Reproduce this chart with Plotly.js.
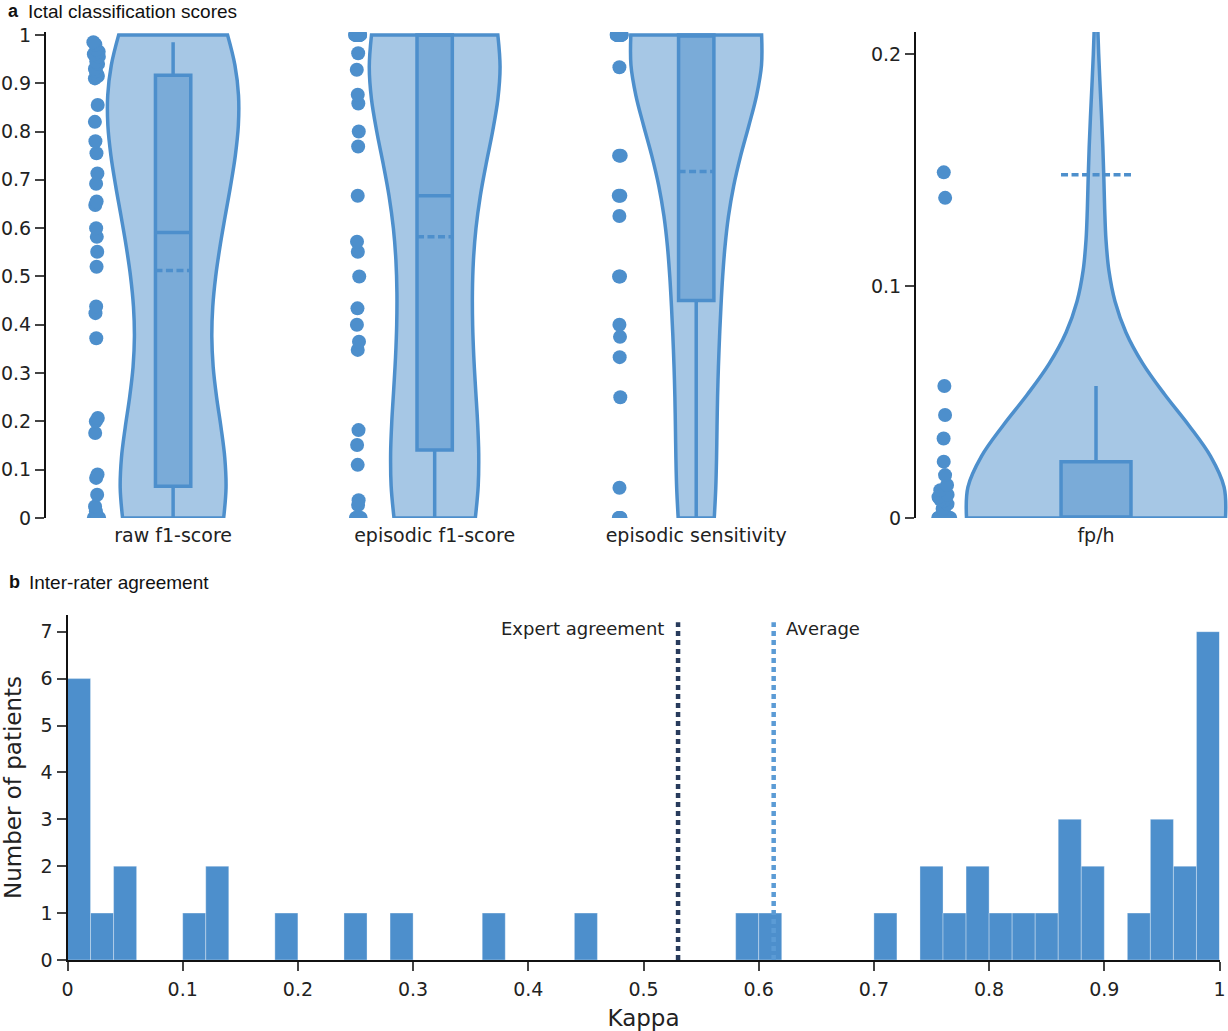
<!DOCTYPE html>
<html>
<head>
<meta charset="utf-8">
<script src="https://cdn.plot.ly/plotly-3.0.1.min.js"></script>
<style>
html,body{margin:0;padding:0;background:#fff;}
#chart{width:1228px;height:1031px;}
</style>
</head>
<body>
<div id="chart"></div>
<script>
// ---------- data ----------
const violinCategories = ['raw f1-score', 'episodic f1-score', 'episodic sensitivity'];
const fpCategory = 'fp/h';

const rawF1 = [0, 0, 0, 0, 0, 0, 0, 0.003, 0.014, 0.024, 0.048,
  0.083, 0.09, 0.176, 0.2, 0.207, 0.372, 0.424, 0.438, 0.52, 0.551, 0.582,
  0.60, 0.648, 0.655, 0.692, 0.713, 0.755, 0.78, 0.82, 0.855, 0.91,
  0.915, 0.918, 0.925, 0.93, 0.94, 0.945, 0.955, 0.96, 0.965, 0.97, 0.98, 0.985];

const episodicF1 = [0, 0, 0, 0, 0, 0, 0.027, 0.037, 0.11, 0.151, 0.182, 0.348,
  0.365, 0.40, 0.434, 0.50, 0.551, 0.572, 0.667, 0.769, 0.80, 0.858, 0.876,
  0.928, 0.962, 1, 1, 1, 1, 1, 1, 1, 1, 1, 1, 1, 1];

const episodicSensitivity = [0, 0, 0, 0, 0.0625, 0.25, 0.333, 0.375, 0.4, 0.5,
  0.5, 0.625, 0.667, 0.667, 0.75, 0.75, 0.933,
  1, 1, 1, 1, 1, 1, 1, 1, 1, 1, 1, 1, 1, 1, 1, 1, 1, 1, 1];

// fp/h: several large values lie above the visible range (they pull the mean up)
const fpPerHour = [0, 0, 0, 0, 0, 0, 0, 0, 0, 0, 0, 0, 0, 0, 0, 0, 0, 0, 0, 0,
  0, 0, 0, 0, 0.002, 0.004, 0.006, 0.0075, 0.008, 0.009, 0.01, 0.012, 0.0142,
  0.0185, 0.0243, 0.0343, 0.0444, 0.0569, 0.138, 0.149,
  0.42, 0.6, 0.75, 1.0, 1.3, 2.2];

const kappaBinStart = [0, 0.02, 0.04, 0.10, 0.12, 0.18, 0.24, 0.28, 0.36, 0.44,
  0.58, 0.60, 0.70, 0.74, 0.76, 0.78, 0.80, 0.82, 0.84, 0.86, 0.88, 0.92, 0.94,
  0.96, 0.98];
const kappaCounts = [6, 1, 2, 1, 2, 1, 1, 1, 1, 1, 1, 1, 1, 2, 1, 2, 1, 1, 1, 3,
  2, 1, 3, 2, 7];
const kappaBinWidth = 0.02;

const expertKappa = 0.53;
const averageKappa = 0.613;

// ---------- styling ----------
const blue = '#4d8fcc';
const blueFill = 'rgba(77,143,204,0.5)';
const W = 1228, H = 1031;
const fx = px => px / W;
const fy = px => 1 - px / H;
const tickFont = {family: 'DejaVu Sans', size: 19, color: '#222'};
const titleFont = {family: 'DejaVu Sans', size: 23, color: '#222'};

function violin(values, cat, xa, ya, extra) {
  return Object.assign({
    type: 'violin',
    x: values.map(() => cat),
    y: values,
    name: cat,
    xaxis: xa, yaxis: ya,
    width: 0.5,
    line: {color: blue, width: 3.5},
    fillcolor: blueFill,
    points: 'all',
    pointpos: -1.17,
    jitter: 0.05,
    marker: {color: blue, size: 14, line: {width: 0}},
    box: {visible: true, width: 0.27, fillcolor: blueFill, line: {color: blue, width: 3.5}},
    meanline: {visible: true, color: blue, width: 3.5},
    spanmode: 'manual',
    span: [0, 1],
    hoverinfo: 'skip',
    showlegend: false
  }, extra || {});
}

const traces = [
  violin(rawF1, violinCategories[0], 'x', 'y'),
  violin(episodicF1, violinCategories[1], 'x', 'y'),
  violin(episodicSensitivity, violinCategories[2], 'x', 'y'),
  violin(fpPerHour, fpCategory, 'x2', 'y2', {spanmode: 'hard', span: undefined, bandwidth: 0.04}),
  {
    type: 'bar',
    x: kappaBinStart,
    y: kappaCounts,
    width: kappaBinWidth,
    offset: 0,
    xaxis: 'x3', yaxis: 'y3',
    marker: {color: blue, line: {width: 0.6, color: 'rgba(255,255,255,0.55)'}},
    hoverinfo: 'skip',
    showlegend: false
  }
];

const axisLine = {showline: true, linecolor: '#111', linewidth: 2, ticks: 'outside',
  ticklen: 9, tickwidth: 2, tickcolor: '#444', showgrid: false, zeroline: false,
  tickfont: tickFont};

const layout = {
  width: W, height: H,
  margin: {l: 0, r: 0, t: 0, b: 0},
  paper_bgcolor: '#fff', plot_bgcolor: '#fff',
  font: {family: 'DejaVu Sans', color: '#222'},
  showlegend: false,
  bargap: 0,
  violinmode: 'overlay',
  xaxis: {domain: [fx(46), fx(827)], anchor: 'y', type: 'category',
    categoryorder: 'array', categoryarray: violinCategories,
    range: [-0.486, 2.5], showline: false, ticks: '', showgrid: false,
    zeroline: false, tickfont: tickFont, ticklabelstandoff: 4},
  yaxis: Object.assign({}, axisLine, {domain: [fy(518), fy(32)], anchor: 'x',
    range: [0, 1.006], dtick: 0.1, tick0: 0}),
  xaxis2: {domain: [fx(916), 1], anchor: 'y2', type: 'category',
    range: [-0.3475, 0.2548], showline: false, ticks: '', showgrid: false,
    zeroline: false, tickfont: tickFont, ticklabelstandoff: 4},
  yaxis2: Object.assign({}, axisLine, {domain: [fy(518), fy(32)], anchor: 'x2',
    range: [0, 0.2095], dtick: 0.1, tick0: 0}),
  xaxis3: Object.assign({}, axisLine, {domain: [fx(67.5), fx(1219.5)], anchor: 'y3',
    range: [0, 1], dtick: 0.1, tick0: 0, ticklabelstandoff: 2,
    title: {text: 'Kappa', font: titleFont, standoff: 12}}),
  yaxis3: Object.assign({}, axisLine, {domain: [fy(960), fy(615)], anchor: 'x3',
    range: [0, 7.356], dtick: 1, tick0: 0,
    title: {text: 'Number of patients', font: titleFont, standoff: 14}}),
  shapes: [
    {type: 'line', xref: 'x3', yref: 'y3', x0: expertKappa, x1: expertKappa, y0: 0, y1: 7.2,
      line: {color: '#283b5c', width: 4.5, dash: '5px,4px'}},
    {type: 'line', xref: 'x3', yref: 'y3', x0: averageKappa, x1: averageKappa, y0: 0, y1: 7.2,
      line: {color: '#5b9bd5', width: 4.5, dash: '5px,4px'}}
  ],
  annotations: [
    {xref: 'paper', yref: 'paper', x: fx(7), y: 1, xanchor: 'left', yanchor: 'top', borderpad: 0,
      text: '<b>a</b>', showarrow: false, font: {family: 'Liberation Sans', size: 18, color: '#111'}},
    {xref: 'paper', yref: 'paper', x: fx(27), y: 1, xanchor: 'left', yanchor: 'top', borderpad: 0,
      text: 'Ictal classification scores', showarrow: false, font: {family: 'Liberation Sans', size: 19, color: '#111'}},
    {xref: 'paper', yref: 'paper', x: fx(7), y: fy(582), xanchor: 'left', yanchor: 'middle',
      text: '<b>b</b>', showarrow: false, font: {family: 'Liberation Sans', size: 18, color: '#111'}},
    {xref: 'paper', yref: 'paper', x: fx(27), y: fy(582), xanchor: 'left', yanchor: 'middle',
      text: 'Inter-rater agreement', showarrow: false, font: {family: 'Liberation Sans', size: 19, color: '#111'}},
    {xref: 'x3', yref: 'y3', x: expertKappa, y: 7.06, xanchor: 'right', yanchor: 'middle', xshift: -12,
      text: 'Expert agreement', showarrow: false, font: {family: 'DejaVu Sans', size: 18, color: '#222'}},
    {xref: 'x3', yref: 'y3', x: averageKappa, y: 7.06, xanchor: 'left', yanchor: 'middle', xshift: 10,
      text: 'Average', showarrow: false, font: {family: 'DejaVu Sans', size: 18, color: '#222'}}
  ]
};

Plotly.newPlot('chart', traces, layout, {staticPlot: true, displayModeBar: false});
</script>
</body>
</html>
